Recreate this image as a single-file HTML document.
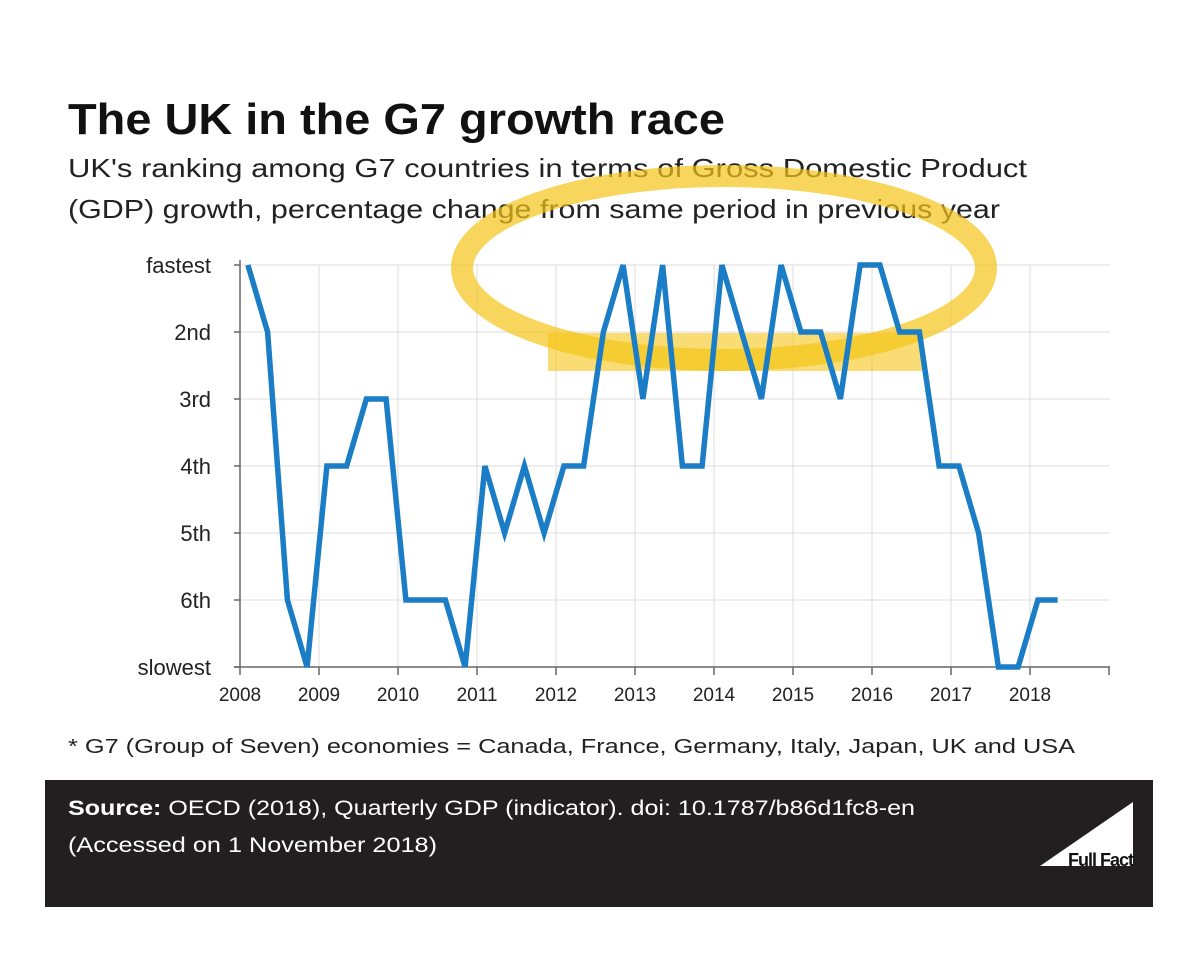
<!DOCTYPE html>
<html><head><meta charset="utf-8"><style>
body{margin:0;background:#fff;width:1200px;height:972px;overflow:hidden;font-family:"Liberation Sans","DejaVu Sans",sans-serif}
</style></head><body>
<svg width="1200" height="972" viewBox="0 0 1200 972">
<text x="68" y="134" font-size="44" font-weight="bold" fill="#111" textLength="657" lengthAdjust="spacingAndGlyphs">The UK in the G7 growth race</text>
<text x="68" y="177" font-size="26" fill="#222" textLength="959" lengthAdjust="spacingAndGlyphs">UK's ranking among G7 countries in terms of Gross Domestic Product</text>
<text x="68" y="218" font-size="26" fill="#222" textLength="932" lengthAdjust="spacingAndGlyphs">(GDP) growth, percentage change from same period in previous year</text>
<g id="grid"></g>
<g id="axes"></g>
<g id="highlight">
<ellipse cx="724" cy="268" rx="262" ry="92" fill="none" stroke="#f5c518" stroke-opacity="0.7" stroke-width="22"/>
<path d="M548 352 L922 352" stroke="#f5c518" stroke-opacity="0.6" stroke-width="38"/>
</g>
<path id="line" fill="none" stroke="#1a7dc6" stroke-width="5.5" stroke-linejoin="miter"/>
<text x="68" y="753" font-size="20" fill="#222" textLength="1007" lengthAdjust="spacingAndGlyphs">* G7 (Group of Seven) economies = Canada, France, Germany, Italy, Japan, UK and USA</text>
<rect x="45" y="780" width="1108" height="127" fill="#231f20"/>
<text x="68" y="815" font-size="21" fill="#fff" textLength="847" lengthAdjust="spacingAndGlyphs"><tspan font-weight="bold">Source:</tspan> OECD (2018), Quarterly GDP (indicator). doi: 10.1787/b86d1fc8-en</text>
<text x="68" y="852" font-size="21" fill="#fff" textLength="369" lengthAdjust="spacingAndGlyphs">(Accessed on 1 November 2018)</text>
<g>
<polygon points="1040,866 1133,802 1133,866" fill="#fff"/>
<text x="1133" y="866" font-size="18" font-weight="bold" fill="#111" text-anchor="end" letter-spacing="-1">Full Fact</text>
</g>
</svg>
<script>
const rankLabels=["fastest","2nd","3rd","4th","5th","6th","slowest"];
const yearLabels=["2008","2009","2010","2011","2012","2013","2014","2015","2016","2017","2018"];
const ranks=[1,2,6,7,4,4,3,3,6,6,6,7,4,5,4,5,4,4,2,1,3,1,4,4,1,2,3,1,2,2,3,1,1,2,2,4,4,5,7,7,6,6];
const NS="http://www.w3.org/2000/svg";
const x0=240,yearW=79,yTop=265,rowH=67,xRight=1110;
const xq=q=>x0-2+yearW*(q+0.5)/4;
const xy=i=>x0+yearW*i;
const yr=r=>yTop+(r-1)*rowH;
const grid=document.getElementById('grid'),axes=document.getElementById('axes');
function mk(tag,attrs,parent){const e=document.createElementNS(NS,tag);for(const k in attrs)e.setAttribute(k,attrs[k]);parent.appendChild(e);return e;}
rankLabels.forEach((l,i)=>{
 const y=yr(i+1);
 const g=mk('line',{x1:x0,x2:xRight,y1:y,y2:y,stroke:'#ddd','stroke-width':1},grid);
 
 
 const t=mk('line',{x1:x0-6,x2:x0,y1:y,y2:y,stroke:'#666','stroke-width':1.5},axes);
 
 
 const tx=mk('text',{x:211,y:y+8,'font-size':22,fill:'#222','text-anchor':'end'},axes);
 tx.textContent=l;
 
 
});
yearLabels.forEach((l,i)=>{
 const x=xy(i);
 const g=mk('line',{x1:x,x2:x,y1:yTop,y2:yr(7),stroke:'#ddd','stroke-width':1},grid);
 
 
 const t=mk('line',{x1:x,x2:x,y1:yr(7),y2:yr(7)+8,stroke:'#666','stroke-width':1.5},axes);
 
 
 const tx=mk('text',{x:x,y:yr(7)+34,'font-size':19,fill:'#222','text-anchor':'middle'},axes);
 tx.textContent=l;
 
 
});
{const e=mk('line',{x1:xy(11),x2:xy(11),y1:yr(7),y2:yr(7)+8,stroke:'#666','stroke-width':1.5},axes);

}
const ya=mk('line',{x1:x0,x2:x0,y1:yTop-5,y2:yr(7),stroke:'#666','stroke-width':1.5},axes);


const xa=mk('line',{x1:x0-6,x2:xRight,y1:yr(7),y2:yr(7),stroke:'#666','stroke-width':1.5},axes);


document.getElementById('line').setAttribute('d',ranks.map((r,i)=>(i?'L':'M')+xq(i).toFixed(1)+' '+yr(r)).join(' '));
</script>
</body></html>
